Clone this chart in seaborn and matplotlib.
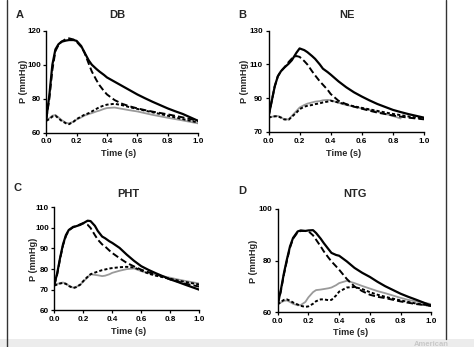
import numpy as np
import pandas as pd
import matplotlib
matplotlib.use("Agg")
import matplotlib.pyplot as plt
import seaborn as sns
from matplotlib.lines import Line2D
from matplotlib.patches import Rectangle

# Shared time grid (s) for every trace
time_s = [0.0, 0.02, 0.04, 0.06, 0.08, 0.10, 0.13, 0.15, 0.18, 0.20, 0.23, 0.25,
          0.28, 0.30, 0.33, 0.35, 0.38, 0.40, 0.45, 0.50, 0.55, 0.60, 0.65, 0.70,
          0.80, 0.85, 0.90, 1.00]

# DB
db_solid = [68, 82, 100, 109, 112, 113.5, 114.2, 114.5, 114.5, 114, 111, 107.5,
            102.5, 100, 97.5, 96, 94, 92.5, 90, 87.5, 85, 82.5, 80.3, 78.2,
            74.3, 72.6, 71, 67]
db_dashed = [68, 80, 97, 108, 111.5, 113.5, 115.2, 115.5, 114.8, 113.5, 110.5, 107.5,
             100.5, 96, 91, 88, 84.5, 82.5, 79.2, 77, 75.5, 74.3, 73.3, 72.4,
             70.8, 69.9, 69, 67]
db_dotted = [67, 68, 69.5, 70, 68.5, 67, 65.5, 65, 66.5, 68, 69.5, 70.5,
             71.5, 72.5, 74, 75, 76, 76.5, 77, 76.2, 75, 74, 73, 72,
             70, 69, 68, 66]
db_gray = [67, 68.5, 70, 70.4, 69, 67.5, 65.8, 65.5, 66.5, 67.8, 69, 70,
           71, 71.5, 72.5, 73, 74, 74.5, 74.8, 74, 73.2, 72.5, 71.5, 70.5,
           68.8, 68, 67.2, 65.5]

# NE
ne_solid = [79, 88, 97, 103, 106, 108, 110.5, 112.5, 117, 119.5, 118.5, 117.3,
            115, 113.3, 110, 107.5, 105.5, 104, 100, 96.5, 93.5, 91, 88.7, 86.6,
            83.1, 81.8, 80.6, 78.5]
ne_dashed = [79, 88, 97, 103, 106, 108, 111.5, 113.5, 115, 114.5, 112, 110,
             106, 103.5, 100, 98, 95, 92.5, 88.5, 86.5, 85, 83.8, 82.6, 81.5,
             79.8, 79.1, 78.5, 77.5]
ne_dotted = [78.5, 79, 79.3, 79.3, 78.5, 77.5, 77.3, 79, 81.5, 83.5, 85, 85.5,
             86, 86.5, 87, 87.5, 88, 88.5, 87.5, 86.3, 85.2, 84.3, 83.4, 82.5,
             80.7, 80, 79.2, 78]
ne_gray = [78.5, 79, 79.3, 79.5, 78.8, 77.5, 77.5, 79.5, 82.5, 84.5, 86, 86.8,
           87.5, 88, 88.3, 88.8, 89, 88.8, 87.3, 86, 85, 84, 83, 82,
           79.5, 78, np.nan, np.nan]

# PHT
pht_solid = [72.5, 78, 85.5, 92, 96.5, 99, 100.5, 100.8, 101.5, 102.3, 103.5, 103.3,
             101, 98.5, 95.8, 95, 93.5, 92.7, 90.3, 87, 84, 81.4, 79.6, 78,
             75, 73.8, 72.5, 70]
pht_dashed = [72, 77.5, 85, 91.5, 96, 98.8, 100.3, 100.8, 101.8, 102.3, 101.5, 100,
              96.5, 94.3, 92, 91, 89, 87.8, 85.3, 83, 81.3, 79.7, 78.5, 77.5,
              75, 74, 73, 71.5]
pht_dotted = [72, 72.5, 73, 73.3, 72.8, 71.8, 70.8, 71.2, 72.5, 74.2, 76.3, 77.5,
              78.3, 78.8, 79.5, 79.8, 80.3, 80.5, 80.9, 81.1, 80.8, 79.3, 77.8, 76.8,
              75.3, 74.5, 73.8, 72.5]
pht_gray = [72.3, 72.8, 73.2, 73.5, 73, 72, 71, 71.3, 72.5, 74, 76, 77.5,
            77.2, 77, 76.6, 76.8, 77.5, 78.2, 79.2, 80, 80.3, 79, 78, 77.3,
            75.8, 75, 74.3, 73]

# NTG
ntg_solid = [63, 68.5, 75, 80.5, 85.5, 88.8, 91.3, 91.7, 91.5, 91.7, 91.8, 90.7,
             88.5, 86.8, 84.5, 83, 82.2, 81.9, 79.7, 77.2, 75.3, 73.7, 71.8, 70.1,
             67.2, 66, 64.9, 62.6]
ntg_dashed = [63, 68, 74.5, 80, 85, 88.5, 91, 91.5, 91.5, 91.4, 89.8, 88.1,
              85.5, 83.6, 81.2, 79.7, 77.8, 76.5, 72.9, 70, 68.2, 66.8, 66, 65.5,
              64.2, 63.7, 63.2, 62.5]
ntg_dotted = [63, 64, 64.8, 65, 64.5, 63.8, 63, 62.5, 62.1, 62.3, 63.3, 64.3,
              65, 65, 64.7, 64.8, 66.5, 68, 69.6, 69.8, 69, 67.8, 66.8, 66,
              64.6, 64, 63.4, 62.5]
ntg_gray = [63.2, 63.8, 64.4, 64.6, 64, 63.3, 62.7, 62.8, 64, 65.8, 67.8, 68.6,
            68.8, 69, 69.3, 69.6, 70.5, 71.3, 72.2, 71.3, 70.2, 69.2, 68.2, 67.4,
            65.6, 64.8, 64.2, 63.2]

panel_letters = ["A", "B", "C", "D"]
panel_titles = ["DB", "NE", "PHT", "NTG"]
y_limits = [(60, 120), (70, 130), (60, 110), (60, 100)]
y_ticks = [[60, 80, 100, 120], [70, 90, 110, 130],
           [60, 70, 80, 90, 100, 110], [60, 80, 100]]
x_ticks = [0.0, 0.2, 0.4, 0.6, 0.8, 1.0]
x_label = "Time (s)"
y_label = "P (mmHg)"

panel_series = [
    (db_gray, db_dotted, db_dashed, db_solid),
    (ne_gray, ne_dotted, ne_dashed, ne_solid),
    (pht_gray, pht_dotted, pht_dashed, pht_solid),
    (ntg_gray, ntg_dotted, ntg_dashed, ntg_solid),
]

sns.set_theme(style="ticks")
plt.rcParams["font.family"] = ["Liberation Sans", "DejaVu Sans"]
plt.rcParams["font.weight"] = "bold"

W, H = 474, 347
fig = plt.figure(figsize=(W / 100, H / 100), dpi=100)
fig.patch.set_facecolor("white")

# axes boxes in pixels: left, top, right, bottom
boxes = [(46.3, 30.7, 198.0, 132.7),
         (268.5, 30.7, 424.0, 132.0),
         (54.3, 207.3, 199.3, 310.3),
         (277.7, 209.0, 431.3, 312.3)]

letter_pos = [(20, 15), (242, 15), (18, 188), (242, 191)]
title_pos = [(117, 15.5), (347, 15.5), (128.5, 193.7), (355.3, 193.7)]
ylab_pos = [(23, 81), (244.3, 81), (33.3, 259), (253.7, 261)]
xlab_pos = [(119, 154), (344, 153.5), (128.5, 331.3), (350.5, 332.5)]

styles = [
    dict(color="#9a9a9a", linewidth=1.3, linestyle="-"),
    dict(color="black", linewidth=1.4, linestyle=(0, (1.6, 1.1))),
    dict(color="black", linewidth=1.4, linestyle=(0, (3.4, 1.6))),
    dict(color="black", linewidth=1.6, linestyle="-"),
]

def fx(px):
    return px / W

def fy(py):
    return 1 - py / H

for i, (l, t, r, b) in enumerate(boxes):
    ax = fig.add_axes([fx(l), fy(b), (r - l) / W, (b - t) / H])
    ax.set_facecolor("white")
    for series, st in zip(panel_series[i], styles):
        df = pd.DataFrame({"t": time_s, "p": series}).dropna()
        sns.lineplot(data=df, x="t", y="p", ax=ax, estimator=None, sort=False,
                     **st)
    ax.set_xlim(0, 1.0)
    ax.set_ylim(*y_limits[i])
    ax.set_xticks(x_ticks)
    ax.set_xticklabels([f"{v:.1f}" for v in x_ticks])
    ax.set_yticks(y_ticks[i])
    ax.set_xlabel("")
    ax.set_ylabel("")
    for side in ("top", "right"):
        ax.spines[side].set_visible(False)
    for side in ("left", "bottom"):
        ax.spines[side].set_linewidth(1.0)
        ax.spines[side].set_color("black")
    ax.tick_params(axis="both", length=2.5, width=0.9, pad=1.5,
                   labelsize=5.8, colors="black")
    for lab in ax.get_xticklabels() + ax.get_yticklabels():
        lab.set_fontweight("bold")

    fig.text(fx(letter_pos[i][0]), fy(letter_pos[i][1]), panel_letters[i],
             ha="center", va="center", fontsize=8, fontweight="bold")
    fig.text(fx(title_pos[i][0]), fy(title_pos[i][1]), panel_titles[i],
             ha="center", va="center", fontsize=8, fontweight="bold")
    fig.text(fx(ylab_pos[i][0]), fy(ylab_pos[i][1]), y_label, rotation=90,
             ha="center", va="center", fontsize=6.6, fontweight="bold")
    fig.text(fx(xlab_pos[i][0]), fy(xlab_pos[i][1]), x_label,
             ha="center", va="center", fontsize=6.6, fontweight="bold")

# page frame and footer band
fig.add_artist(Rectangle((0, 0), 1, fy(339), transform=fig.transFigure,
                         facecolor="#ececec", edgecolor="none", zorder=0))
fig.add_artist(Line2D([fx(7), fx(7)], [0, 1], transform=fig.transFigure,
                      color="#333333", linewidth=1.0))
fig.add_artist(Line2D([fx(446), fx(446)], [fy(339), 1], transform=fig.transFigure,
                      color="#333333", linewidth=1.0))
fig.text(fx(414), fy(344), "American", ha="left", va="center",
         fontsize=5.5, color="#c8c8c8")

fig.savefig("out.png", dpi=100)
